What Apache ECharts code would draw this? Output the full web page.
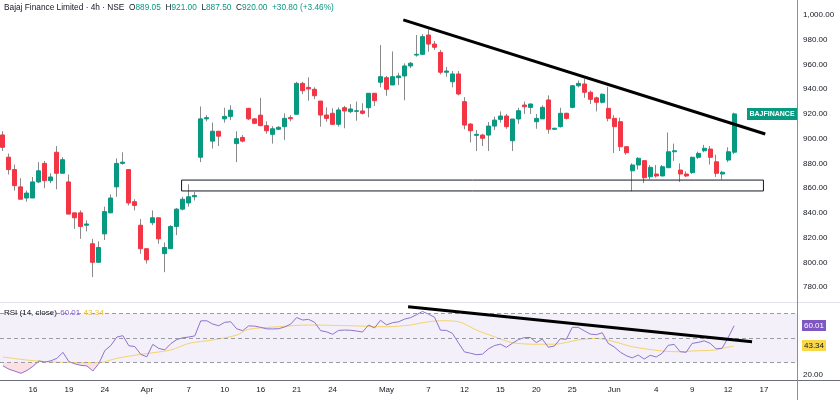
<!DOCTYPE html>
<html>
<head>
<meta http-equiv="Content-Type" content="text/html; charset=utf-8" />
<title>Bajaj Finance 4h</title>
<script type="text/javascript" src="https://cdn.jsdelivr.net/npm/echarts@6/dist/echarts.min.js"></script>
<style>
  body { margin: 0; background: #fff; }
  #infoChart { width: 840px; height: 400px; }
</style>
</head>
<body>
<div id="infoChart"></div>
<script type="text/javascript">
// 4h candles
var opens = [903,885,875,861,852,852,865,880,866,889, 872,865,840,840,830,815,800,823,840,861,
  880,875,849,830,811,832,836,807,811,829, 843,848,853,885,916,898,906,916,918,896,
  901,924.5,916,919,910.5,903.5,907.6,909.7,917,919.7, 944.7,941.5,939.9,930.4,919.1,920.5,911.6,925,921.8,922.1,
  922.4,925,936.7,945.6,949.3,943.4,949.3,950.7,958.8,967.6, 968.2,983.8,976.5,969.8,953.7,946,952.3,929.9,911.8,902.7,
  902.9,902.9,910.2,915.6,918.3,898.3,915.9,927.2,925.3,913.7, 916,931.3,907.6,909.7,920.5,925.3,942.8,944.2,937.5,933,
  929.4,924.5,916.4,913.7,893.5,874,878.7,882.2,869.2,871.4, 869.8,876.5,889.4,874.6,871.4,872.5,884.9,890.2,891.6,881.3,
  871.4,882.7,889.05];
var highs = [906,888,879,868,858,869,881,882,872,894, 885,871,840,842,834,819,817,845,855,884,
  889,875,851,835,811,842,836,816,830,844, 853,863,857,926,919,913,906,925,927,906,
  903,925,916.5,933,914,910,910,920.5,919,946, 946,949.6,941.5,930.4,925.3,924.5,925.3,926.4,928,930,
  928.6,936.7,936.7,975.7,950.7,970.5,953.3,960.9,962,983.8, 984.6,988.4,979,971.7,958,954.7,954.7,933.6,912.5,907,
  904,913.5,917.8,922,920,915.9,925,930,928.5,920, 927,935,908.8,925,921,943.4,947,948.3,939,934,
  936.7,941.9,919,917,893.5,880,885,882.2,878.7,878.7, 878.7,905,896,880,873.5,885.5,889.5,895,894,887,
  874,893,921];
var lows = [890,871,858,851,849,852,864,860,864,859, 872,839,827,819,825,788,800,818,840,853,
  879,846,842,807,799,830,815,792,811,822, 842,845,850,881,914,892,894,913,915,881,
  897,915,912,910,904,896,907,899,914,919.7, 936,930.7,932,909.7,913.7,911,909.7,908.4,920.5,914.5,
  919.5,917.3,926.4,941.5,934.7,943.4,943.4,931,957,966.3, 968.2,970.3,971.7,952,950,941.5,935,907.6,897,890,
  894,890,907,913,908,890,912,920,920,908, 916,904,907,909,915.5,924.5,941.5,933,928,922,
  928.5,914,888.3,890,887,857.5,875,864,867,868.5, 869.8,876.5,882,865,869,871.5,883.5,889,879,869,
  867,881,887.5];
var closes = [893,875,862,851,856,865,874,866,869,872, 883,839,836,829,831,800,812,841,852,880,
  881,848,846,811,802,836,819,812,829,843, 851,853,854,916,917,906,902,918,923,900,
  898,916,912.4,910.5,906.4,908,909.2,916.4,916.1,944.7, 938.8,940.2,934.7,919.1,916.4,911.6,923.2,922.4,924,922.6,
  920.5,936.7,930.7,950.1,939.9,950.1,950.7,958.8,961,968.2, 982.5,976.5,973.9,953.7,954.7,952.3,936.1,911,906.4,903.5,
  900.3,910.2,915,918.3,909.7,915.9,922.6,925.8,928,916.4, 925.3,907.6,908.4,920.5,916.4,942.8,944.7,937.5,931.8,929.4,
  935.9,916.4,909.7,893.5,888.6,878.7,884.1,868.4,876.8,869.8, 877.3,889.4,890.2,871.4,869.8,884.9,888.1,892.2,884.9,872,
  872.8,889.4,920];

// RSI(14) per candle and its moving average (read at a few points)
var rsi = [27.3,24.5,22.9,21.2,23.5,26.9,31.3,30.3,31.4,33.4, 38.3,30.7,28.9,27.7,27.2,23.1,29.2,39.8,43.9,50.8,
  51.9,43.7,43,36.6,34.7,44.8,41.5,40.3,45.4,48.7, 50.2,50.8,51.7,64,64.1,61.4,60,62.8,63.3,57.5,
  56,59.9,59.7,58.7,57.5,57.4,57.6,59,61.3,66.7, 64.7,65.2,62.8,56,55,53,56.2,56.5,56.3,55.7,
  54.9,60.6,58.2,64.5,60.7,62.5,63.2,65.4,66.6,69, 71.7,69.5,67,56.4,56.2,53.8,46.1,38.7,37.6,36.4,
  36.8,41.1,43.8,45,42.4,45.7,48.7,50.3,50.4,46.3, 49.1,42.5,43.4,49.4,48.9,58.7,58.7,55.9,53.2,52.7,
  54.3,45.6,42.7,38.5,35.6,33.8,36.1,32.8,35.9,34.5, 37.5,44,44.8,38.8,38.3,45.6,46.4,47.7,45.7,41.2,
  41.6,50.2,60.01];
var rsiMa = [[0,34.5],[5,31.5],[11,30],[16,29.9],[19,33.4],[23,36.7],[28,40.2],[31,45.6],[35,48.4],[39,52.4],
  [41,57.1],[46,59.2],[51,60.6],[58,60],[64,59.2],[68,60.6],[70,62.5],[73,64.1],[76,63.3],[79,56.5],
  [82,51.1],[85,46.2],[89,44.9],[92,44.9],[96,48.4],[99,49.7],[102,47],[105,42.9],[110,39.4],[113,38.8],
  [115,39.4],[119,40.2],[120,41.6],[122,43.34]];

// date ticks: candle slot -> text
var tickIdx  = [5, 11, 17, 24, 31, 37, 43, 49, 55, 64, 71, 77, 83, 89, 95, 102, 109, 115, 121, 127];
var tickText = ['16','19','24','Apr','7','10','16','21','24','May','7','12','15','20','25','Jun','4','9','12','17'];

// drawn annotations (slot index, value)
var priceTrend = [[66.8, 996], [127.2, 903.8]];
var rsiTrend = [[67.6, 75.6], [125, 47]];
var boxX = [29.8, 126.9];
var boxY = [857.7, 866.5];

var slots = 133;
var cats = [];
for (var i = 0; i < slots; i++) cats.push(i);

var wickData = [], bodyData = [], osBase = [], osFill = [];
for (var i = 0; i < opens.length; i++) {
  wickData.push([opens[i], closes[i], lows[i], highs[i]]);
  bodyData.push([opens[i], closes[i], Math.min(opens[i], closes[i]), Math.max(opens[i], closes[i])]);
  osBase.push(Math.min(rsi[i], 30));
  osFill.push(30 - Math.min(rsi[i], 30));
}
var tickMap = {};
for (var i = 0; i < tickIdx.length; i++) tickMap[tickIdx[i]] = tickText[i];

var FONT = 'Liberation Sans';
var UP = '#089981', DOWN = '#f23645';

var option = {
  animation: false,
  backgroundColor: '#ffffff',
  textStyle: { fontFamily: FONT },
  title: {
    left: 4, top: 4, padding: 0,
    text: '{n|Bajaj Finance Limited · 4h · NSE}  {k|O}{g|889.05}  {k|H}{g|921.00}  {k|L}{g|887.50}  {k|C}{g|920.00}  {g|+30.80 (+3.46%)}',
    textStyle: {
      fontSize: 8.3, fontWeight: 'normal', fontFamily: FONT,
      rich: {
        n: { color: '#131722', fontSize: 8.3, fontFamily: FONT },
        k: { color: '#131722', fontSize: 8.3, fontFamily: FONT },
        g: { color: UP, fontSize: 8.3, fontFamily: FONT }
      }
    }
  },
  grid: [
    { left: 0, right: 43, top: 3, height: 299 },
    { left: 0, right: 43, top: 302, height: 79 }
  ],
  xAxis: [
    { type: 'category', gridIndex: 0, data: cats, boundaryGap: true,
      axisLine: { show: false }, axisTick: { show: false }, axisLabel: { show: false }, splitLine: { show: false } },
    { type: 'category', gridIndex: 1, data: cats, boundaryGap: true,
      axisLine: { show: false }, axisTick: { show: false }, splitLine: { show: false },
      axisLabel: {
        interval: function (idx) { return tickMap[idx] !== undefined; },
        formatter: function (v, idx) { return tickMap[idx] || ''; },
        color: '#131722', fontSize: 8, margin: 5, fontFamily: FONT, hideOverlap: false
      } },
    { type: 'value', gridIndex: 0, min: -0.5, max: slots - 0.5, show: false },
    { type: 'value', gridIndex: 1, min: -0.5, max: slots - 0.5, show: false }
  ],
  yAxis: [
    { type: 'value', gridIndex: 0, position: 'right', min: 767.9, max: 1009.7, splitNumber: 12, scale: true,
      axisLine: { show: false }, axisTick: { show: false }, splitLine: { show: false },
      axisLabel: {
        showMinLabel: false, showMaxLabel: false, margin: 6, color: '#131722', fontSize: 8, fontFamily: FONT,
        formatter: function (v) {
          if (Math.abs(v / 20 - Math.round(v / 20)) > 0.001) return '';
          return v.toLocaleString('en-US', { minimumFractionDigits: 2, maximumFractionDigits: 2 });
        }
      } },
    { type: 'value', gridIndex: 1, position: 'right', min: 14.9, max: 79.4, splitNumber: 3,
      axisLine: { show: false }, axisTick: { show: false }, splitLine: { show: false },
      axisLabel: {
        showMinLabel: false, showMaxLabel: false, margin: 6, color: '#131722', fontSize: 8, fontFamily: FONT,
        formatter: function (v) { return v === 20 ? '20.00' : ''; }
      } }
  ],
  series: [
    {
      name: 'wick', type: 'candlestick', xAxisIndex: 0, yAxisIndex: 0, data: wickData, barWidth: 1,
      itemStyle: { color: '#8a8a8a', color0: '#8a8a8a', borderColor: '#8a8a8a', borderColor0: '#8a8a8a', borderWidth: 1 }
    },
    {
      name: 'body', type: 'candlestick', xAxisIndex: 0, yAxisIndex: 0, data: bodyData, barWidth: 4.5,
      itemStyle: { color: UP, color0: DOWN, borderColor: UP, borderColor0: DOWN, borderWidth: 1 }
    },
    {
      name: 'support', type: 'line', xAxisIndex: 2, yAxisIndex: 0, symbol: 'none', z: 5,
      data: [[boxX[0], boxY[1]], [boxX[1], boxY[1]], [boxX[1], boxY[0]], [boxX[0], boxY[0]], [boxX[0], boxY[1]]],
      lineStyle: { color: '#131722', width: 1 }
    },
    {
      name: 'trend', type: 'line', xAxisIndex: 2, yAxisIndex: 0, symbol: 'none', z: 6,
      data: priceTrend, lineStyle: { color: '#000000', width: 3 }
    },
    {
      name: 'osBase', type: 'line', xAxisIndex: 1, yAxisIndex: 1, stack: 'os', symbol: 'none',
      data: osBase, lineStyle: { opacity: 0 }
    },
    {
      name: 'osFill', type: 'line', xAxisIndex: 1, yAxisIndex: 1, stack: 'os', symbol: 'none',
      data: osFill, lineStyle: { opacity: 0 }, areaStyle: { color: 'rgba(242,54,69,0.22)', origin: 'start' }
    },
    {
      name: 'RSI', type: 'line', xAxisIndex: 1, yAxisIndex: 1, symbol: 'none', z: 4,
      data: rsi, lineStyle: { color: '#8f72cf', width: 1 },
      markArea: { silent: true, itemStyle: { color: 'rgba(126,87,194,0.09)' }, data: [[{ yAxis: 30 }, { yAxis: 70 }]] },
      markLine: {
        silent: true, symbol: 'none', label: { show: false },
        lineStyle: { color: '#9a9ca5', type: [4, 3], width: 1 },
        data: [{ yAxis: 70 }, { yAxis: 50 }, { yAxis: 30 }]
      }
    },
    {
      name: 'RSI MA', type: 'line', xAxisIndex: 1, yAxisIndex: 1, symbol: 'none', smooth: 0.3, z: 3,
      data: rsiMa, lineStyle: { color: '#f5d36b', width: 1 }
    },
    {
      name: 'rsiTrend', type: 'line', xAxisIndex: 3, yAxisIndex: 1, symbol: 'none', z: 6,
      data: rsiTrend, lineStyle: { color: '#000000', width: 3 }
    }
  ],
  graphic: [
    { type: 'line', shape: { x1: 0, y1: 302.5, x2: 840, y2: 302.5 }, style: { stroke: '#e0e3eb', lineWidth: 1 }, z: 10 },
    { type: 'line', shape: { x1: 0, y1: 380.5, x2: 840, y2: 380.5 }, style: { stroke: '#6a6d78', lineWidth: 1 }, z: 10 },
    { type: 'line', shape: { x1: 797.5, y1: 0, x2: 797.5, y2: 400 }, style: { stroke: '#8a8e97', lineWidth: 1 }, z: 10 },
    { type: 'rect', shape: { x: 747, y: 108, width: 50, height: 12 }, style: { fill: UP }, z: 20 },
    { type: 'text', x: 772, y: 114, style: { text: 'BAJFINANCE', fill: '#ffffff', font: 'bold 7px ' + FONT, textAlign: 'center', textVerticalAlign: 'middle' }, z: 21 },
    { type: 'rect', shape: { x: 802, y: 320, width: 24, height: 11 }, style: { fill: '#7e57c2' }, z: 20 },
    { type: 'text', x: 814, y: 325.5, style: { text: '60.01', fill: '#ffffff', font: '8px ' + FONT, textAlign: 'center', textVerticalAlign: 'middle' }, z: 21 },
    { type: 'rect', shape: { x: 802, y: 340, width: 24, height: 11 }, style: { fill: '#f9d94a' }, z: 20 },
    { type: 'text', x: 814, y: 345.5, style: { text: '43.34', fill: '#131722', font: '8px ' + FONT, textAlign: 'center', textVerticalAlign: 'middle' }, z: 21 },
    { type: 'text', x: 4, y: 313, style: {
        text: '{a|RSI (14, close)} {b|60.01} {c|43.34}',
        textVerticalAlign: 'middle',
        rich: {
          a: { fill: '#131722', font: '8px ' + FONT },
          b: { fill: '#7e57c2', font: '8px ' + FONT },
          c: { fill: '#e8c23a', font: '8px ' + FONT }
        }
      }, z: 21 }
  ]
};

var mychart = echarts.init(document.getElementById('infoChart'));
mychart.setOption(option);
</script>
</body>
</html>
